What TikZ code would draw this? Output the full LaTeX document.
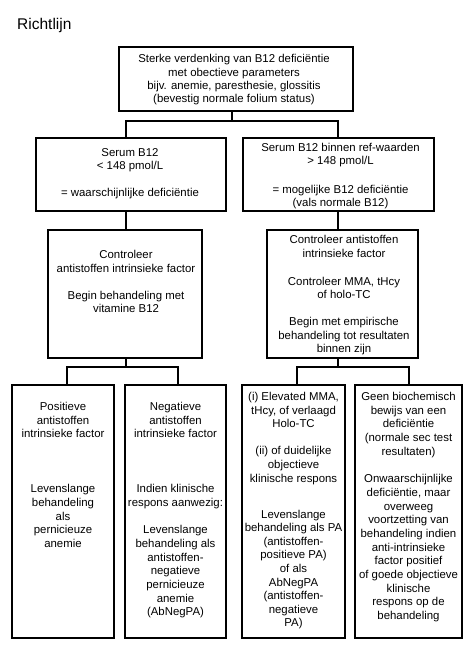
\documentclass[tikz,border=0pt]{standalone}
\usepackage{fontspec}
\setmainfont{Liberation Sans}
\begin{document}
\begin{tikzpicture}[x=1pt,y=-1pt,
  box/.style={draw=black,line width=1.6pt,inner sep=0pt,fill=white},
  txt/.style={inner sep=0pt,align=center,anchor=north,font=\fontsize{11.4}{13.6}\selectfont},
  txtb/.style={txt,font=\fontsize{11.4}{13.7}\selectfont},
  conn/.style={draw=black,line width=1.6pt}]
\useasboundingbox[fill=white] (0,0) rectangle (474,660);
\node[anchor=base west,inner sep=0pt,font=\fontsize{15.5}{18}\selectfont] (title) at (17,30) {Richtlijn};
% boxes
\node[box,minimum width=234pt,minimum height=64pt] (top) at (236,79) {};
\node[box,minimum width=190pt,minimum height=73pt] (sL) at (131,174.5) {};
\node[box,minimum width=191pt,minimum height=73pt] (sR) at (338.5,174.5) {};
\node[box,minimum width=154pt,minimum height=128pt] (cL) at (125,294) {};
\node[box,minimum width=151pt,minimum height=128pt] (cR) at (342.5,294) {};
\node[box,minimum width=102pt,minimum height=253pt] (b1) at (63,511.5) {};
\node[box,minimum width=101pt,minimum height=253pt] (b2) at (175.5,511.5) {};
\node[box,minimum width=103pt,minimum height=253pt] (b3) at (293.5,511.5) {};
\node[box,minimum width=107pt,minimum height=253pt] (b4) at (408.5,511.5) {};
% connector coordinates
\coordinate (j0) at (232,121);
\coordinate (xL) at (126,0);
\coordinate (xR) at (338,0);
\coordinate (jL) at (126,367);
\coordinate (jR) at (338,367);
\coordinate (x1) at (67,0);
\coordinate (x2) at (178,0);
\coordinate (x3) at (297,0);
\coordinate (x4) at (409,0);
\draw[conn] (top.south -| j0) -- (j0);
\draw[conn] (sL.north -| xL) |- (j0) -| (sR.north -| xR);
\draw[conn] (sL.south -| xL) -- (cL.north -| xL);
\draw[conn] (sR.south -| xR) -- (cR.north -| xR);
\draw[conn] (cL.south -| xL) -- (jL);
\draw[conn] (cR.south -| xR) -- (jR);
\draw[conn] (b1.north -| x1) |- (jL) -| (b2.north -| x2);
\draw[conn] (b3.north -| x3) |- (jR) -| (b4.north -| x4);
% texts
\node[txt,font=\fontsize{11.4}{13.3}\selectfont] (topT) at (234,54.5) {Sterke verdenking van B12 deficiëntie\\met obectieve parameters\\bijv. anemie, paresthesie, glossitis\\(bevestig normale folium status)};
\node[txt,font=\fontsize{11.4}{13.3}\selectfont] (sLT) at (130,148) {Serum B12\\< 148 pmol/L\\[13.3pt]= waarschijnlijke deficiëntie};
\node[txt,font=\fontsize{11.4}{13.3}\selectfont] (sRT) at (340.5,143) {Serum B12 binnen ref-waarden\\> 148 pmol/L\\[15pt]= mogelijke B12 deficiëntie\\(vals normale B12)};
\node[txt] (cLT) at (126,250) {Controleer\\antistoffen intrinsieke factor\\[13.7pt]Begin behandeling met\\vitamine B12};
\node[txt] (cRT) at (344,235.5) {Controleer antistoffen\\intrinsieke factor\\[14pt]Controleer MMA, tHcy\\of holo-TC\\[13.4pt]Begin met empirische\\behandeling tot resultaten\\binnen zijn};
\node[txtb] (b1T) at (63,402) {Positieve\\antistoffen\\intrinsieke factor\\[41.1pt]Levenslange\\behandeling\\als\\pernicieuze\\anemie};
\node[txtb] (b2T) at (175.5,402) {Negatieve\\antistoffen\\intrinsieke factor\\[41.1pt]Indien klinische\\respons aanwezig:\\[13.7pt]Levenslange\\behandeling als\\antistoffen-\\negatieve\\pernicieuze\\anemie\\(AbNegPA)};
\node[txt] (b3T) at (293.5,392) {(i) Elevated MMA,\\tHcy, of verlaagd\\Holo-TC\\[13.6pt](ii) of duidelijke\\objectieve\\klinische respons\\[22.4pt]Levenslange\\behandeling als PA\\(antistoffen-\\positieve PA)\\of als\\AbNegPA\\(antistoffen-\\negatieve\\PA)};
\node[txtb] (b4T) at (408.5,392) {Geen biochemisch\\bewijs van een\\deficiëntie\\(normale sec test\\resultaten)\\[13.7pt]Onwaarschijnlijke\\deficiëntie, maar\\overweeg\\voortzetting van\\behandeling indien\\anti-intrinsieke\\factor positief\\of goede objectieve\\klinische\\respons op de\\behandeling};
\end{tikzpicture}
\end{document}
